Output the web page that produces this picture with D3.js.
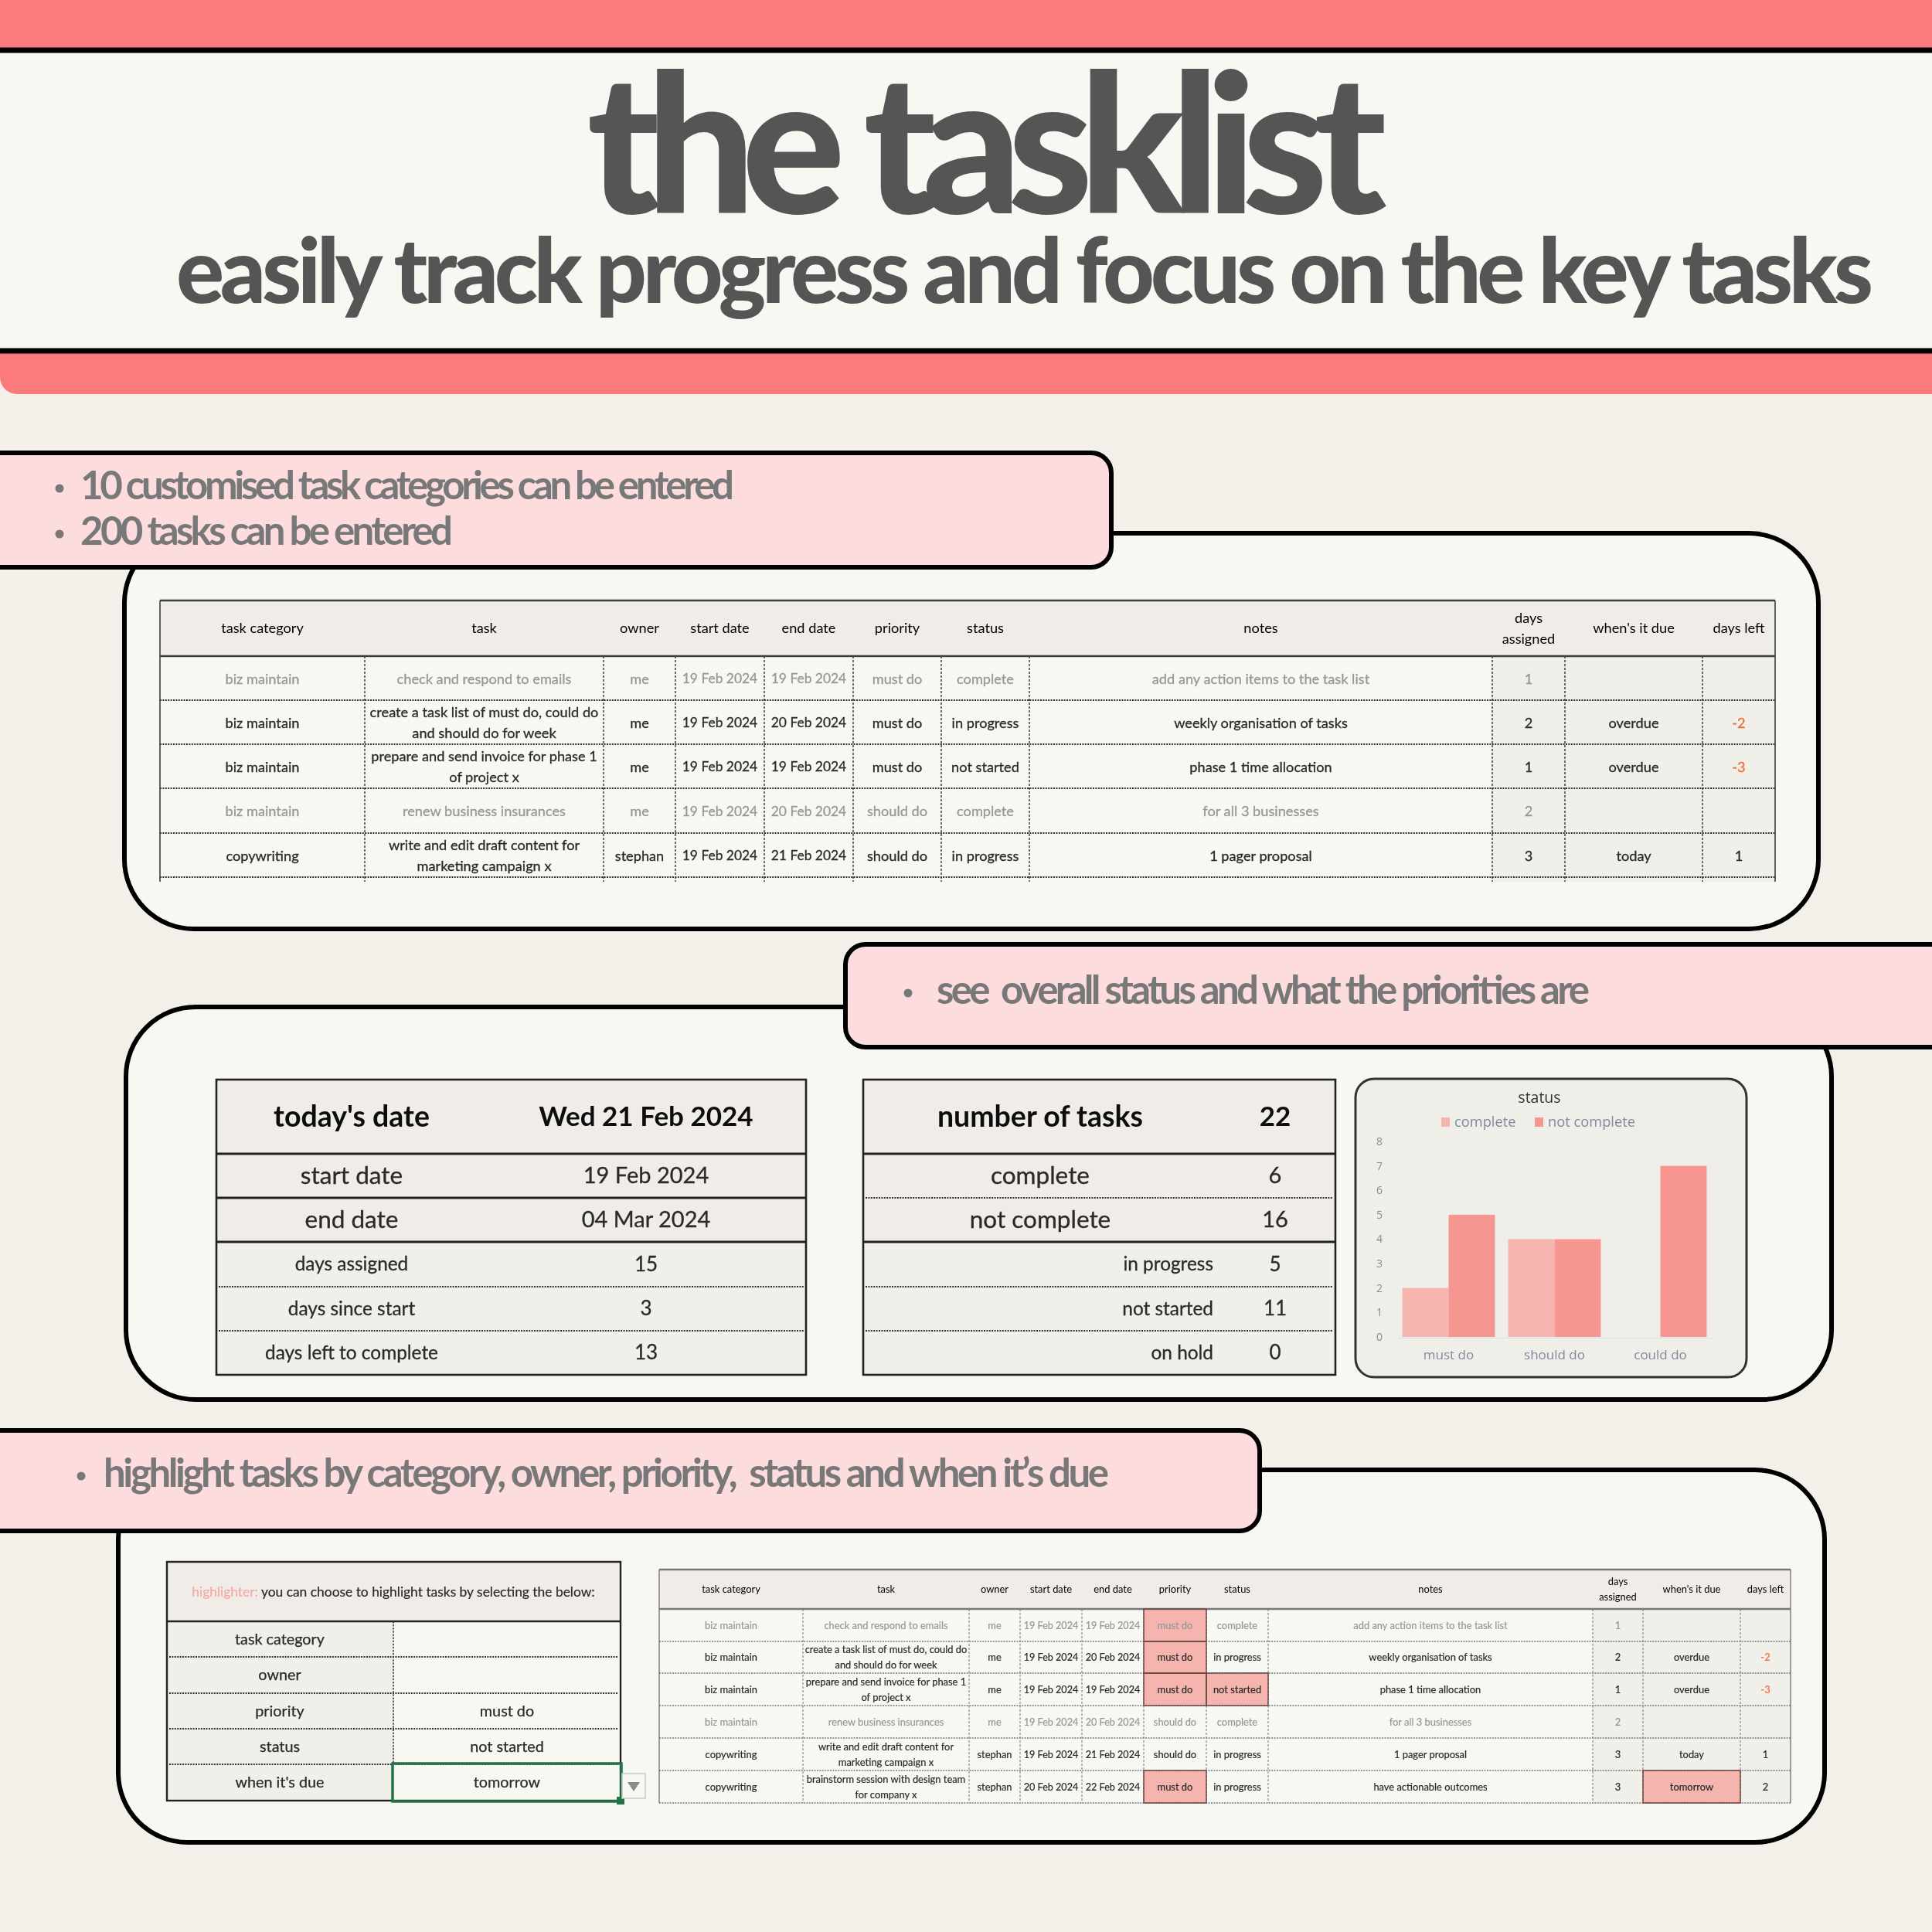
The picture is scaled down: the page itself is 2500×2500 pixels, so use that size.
<!DOCTYPE html>
<html>
<head>
<meta charset="utf-8">
<script src="https://cdn.jsdelivr.net/npm/d3@7/dist/d3.min.js"></script>
<style>
html,body{margin:0;padding:0;background:#F3F0EA}
svg{display:block}
text{font-family:Lato,"Open Sans",sans-serif}
</style>
</head>
<body>
<div id="chart"></div>
<script>
// ---------- content ----------
const titleText = "the tasklist";
const subtitleText = "easily track progress and focus on the key tasks";
const callout1Lines = ["10 customised task categories can be entered", "200 tasks can be entered"];
const callout2Lines = ["see  overall status and what the priorities are"];
const callout3Lines = ["highlight tasks by category, owner, priority,  status and when it\u2019s due"];

const headers = ["task category","task","owner","start date","end date","priority","status","notes","days\nassigned","when's it due","days left"];
const taskCategories = ["biz maintain","biz maintain","biz maintain","biz maintain","copywriting","copywriting"];
const tasks = ["check and respond to emails","create a task list of must do, could do\nand should do for week","prepare and send invoice for phase 1\nof project x","renew business insurances","write and edit draft content for\nmarketing campaign x","brainstorm session with design team\nfor company x"];
const owners = ["me","me","me","me","stephan","stephan"];
const startDates = ["19 Feb 2024","19 Feb 2024","19 Feb 2024","19 Feb 2024","19 Feb 2024","20 Feb 2024"];
const endDates = ["19 Feb 2024","20 Feb 2024","19 Feb 2024","20 Feb 2024","21 Feb 2024","22 Feb 2024"];
const priorities = ["must do","must do","must do","should do","should do","must do"];
const statuses = ["complete","in progress","not started","complete","in progress","in progress"];
const notes = ["add any action items to the task list","weekly organisation of tasks","phase 1 time allocation","for all 3 businesses","1 pager proposal","have actionable outcomes"];
const daysAssigned = ["1","2","1","2","3","3"];
const dueLabels = ["","overdue","overdue","","today","tomorrow"];
const daysLeft = ["","-2","-3","","1","2"];

const dateLabels = ["start date","end date","days assigned","days since start","days left to complete"];
const dateValues = ["19 Feb 2024","04 Mar 2024","15","3","13"];
const countLabels = ["complete","not complete","in progress","not started","on hold"];
const countValues = ["6","16","5","11","0"];

const chartTitle = "status";
const chartCategories = ["must do","should do","could do"];
const seriesNames = ["complete","not complete"];
const completeValues = [2,4,0];
const notCompleteValues = [5,4,7];
const yTickValues = [0,1,2,3,4,5,6,7,8];

const highlighterLabels = ["task category","owner","priority","status","when it's due"];
const highlighterValues = ["","","must do","not started","tomorrow"];

// ---------- layout & style ----------
const W = 2500, H = 2500;
const C = {bg:"#F3F0EA", paper:"#F8F8F3", coral:"#FB7B7C", pink:"#FCDCDD", ink:"#000", head:"#F0EDE8", shade:"#F0EFE9",
           title:"#555555", callout:"#787878", dark:"#2A2A2A", muted:"#979797", red:"#F0703C", hi:"#F5B5AE",
           c1:"#F5B5AE", c2:"#F59690", axis:"#808A9E", green:"#217346"};

const svg = d3.select("#chart").append("svg").attr("width",W).attr("height",H).attr("viewBox",`0 0 ${W} ${H}`);
const defs = svg.append("defs");
defs.append("filter").attr("id","soft").attr("x","-2%").attr("y","-2%").attr("width","104%").attr("height","104%")
  .append("feGaussianBlur").attr("stdDeviation",0.55);
defs.append("filter").attr("id","softer").attr("x","-2%").attr("y","-2%").attr("width","104%").attr("height","104%")
  .append("feGaussianBlur").attr("stdDeviation",0.45);

const rect = (g,x,y,w,h,fill,extra={})=>{
  const r=g.append("rect").attr("x",x).attr("y",y).attr("width",w).attr("height",h).attr("fill",fill);
  Object.entries(extra).forEach(([k,v])=>r.attr(k,v)); return r;
};
const line = (g,x1,y1,x2,y2,stroke,w,dash)=>{
  const l=g.append("line").attr("x1",x1).attr("y1",y1).attr("x2",x2).attr("y2",y2).attr("stroke",stroke).attr("stroke-width",w);
  if(dash) l.attr("stroke-dasharray",dash); return l;
};
const label = (g,str,x,y,size,fill,opt={})=>{
  const t=g.append("text").attr("x",x).attr("y",y).attr("font-size",size).attr("fill",fill)
    .attr("text-anchor",opt.anchor||"middle").attr("font-weight",opt.weight||400).text(str);
  if(opt.len) t.attr("textLength",opt.len).attr("lengthAdjust",opt.adjust||"spacing");
  if(opt.family) t.style("font-family",opt.family);
  if(opt.sw) t.attr("stroke",fill).attr("stroke-width",opt.sw);
  return t;
};
const cellText = (g,str,cx,cy,size,lh,fill,opt={})=>{
  const parts=str.split("\n");
  parts.forEach((p,i)=>{
    label(g,p,cx,cy+(i-(parts.length-1)/2)*lh+size*0.34,size,fill,opt);
  });
};

// ---------- page frame ----------
rect(svg,0,0,W,H,C.bg);
rect(svg,0,-30,W+60,540,C.coral,{rx:22});
rect(svg,-10,65,W+20,389,C.paper,{stroke:C.ink,"stroke-width":7});

label(svg,titleText,1277,276,250,C.title,{weight:900,len:1035});
label(svg,subtitleText,1326,392,116,C.title,{weight:900,len:2196});

// ---------- white panels ----------
const panels = [[161,690,2192,512],[163,1303,2207,508],[153,1902,2208,482]];
svg.selectAll("rect.panel").data(panels).join("rect").attr("class","panel")
  .attr("x",d=>d[0]).attr("y",d=>d[1]).attr("width",d=>d[2]).attr("height",d=>d[3])
  .attr("rx",90).attr("fill",C.paper).attr("stroke",C.ink).attr("stroke-width",6);

// ---------- task sheets ----------
function sheet(cfg){
  const g=svg.append("g").attr("filter",`url(#${cfg.filter})`);
  const E=cfg.edges, Y=cfg.rows, n=Y.length-1;
  const hTop=cfg.top, hBot=Y[0];
  rect(g,E[0],hTop,E[E.length-1]-E[0],hBot-hTop,C.head);
  rect(g,E[8],hBot,E[11]-E[8],cfg.bottom-hBot,C.shade);
  const col=(i)=>(E[i]+E[i+1])/2;
  const cols=[taskCategories,tasks,owners,startDates,endDates,priorities,statuses,notes,daysAssigned,dueLabels,daysLeft];
  headers.forEach((h,i)=>cellText(g,h,col(i),(hTop+hBot)/2,cfg.size,cfg.lh,cfg.dark,{sw:cfg.sw}));
  // highlighted cells, driven by the data
  if(cfg.highlight){
    d3.range(n).forEach(r=>{
      const mark=(i)=>rect(g,E[i],Y[r],E[i+1]-E[i],Y[r+1]-Y[r],C.hi);
      if(priorities[r]==="must do") mark(5);
      if(statuses[r]==="not started") mark(6);
      if(dueLabels[r]==="tomorrow") mark(9);
    });
  }
  // grid
  E.slice(1,-1).forEach(x=>line(g,x,hBot,x,cfg.bottom,cfg.grid,cfg.gw,"3 2"));
  Y.slice(1).forEach(y=>line(g,E[0],y,E[E.length-1],y,cfg.grid,cfg.gh,"2 1.4"));
  line(g,E[0],hTop,E[E.length-1],hTop,cfg.frame,cfg.fw+1);
  line(g,E[0],hBot,E[E.length-1],hBot,cfg.frame,cfg.fw+1);
  line(g,E[0],hTop,E[0],cfg.bottom,cfg.frame,cfg.fw);
  line(g,E[E.length-1],hTop,E[E.length-1],cfg.bottom,cfg.frame,cfg.fw);
  // highlighted cell outlines
  if(cfg.highlight){
    d3.range(n).forEach(r=>{
      const out=(i)=>rect(g,E[i],Y[r],E[i+1]-E[i],Y[r+1]-Y[r],"none",{stroke:"#6b4a48","stroke-width":1.5});
      if(priorities[r]==="must do") out(5);
      if(statuses[r]==="not started") out(6);
      if(dueLabels[r]==="tomorrow") out(9);
    });
  }
  d3.range(n).forEach(r=>{
    const done=statuses[r]==="complete";
    const cy=(Y[r]+Y[r+1])/2+cfg.shift;
    cols.forEach((c,i)=>{
      const v=c[r]; if(!v) return;
      let fill=done?C.muted:C.dark;
      if(i===10 && +v<0) fill=C.red;
      const size=(i===3||i===4)?cfg.dateSize:cfg.size;
      cellText(g,v,col(i),cy,size,cfg.lh,fill,{sw:cfg.sw});
    });
  });
}
sheet({filter:"soft",top:777,bottom:1141,size:18.2,dateSize:17.4,lh:27,shift:1,sw:0.3,grid:"#333",gw:1.4,gh:2,frame:"#3c3c3c",fw:1.6,
  edges:[207,472,781,874,989,1104,1218,1332,1931,2025,2203,2297],
  rows:[849,906,963,1020,1078,1135]});
sheet({filter:"softer",top:2031,bottom:2333,size:12.9,dateSize:12.6,lh:20,shift:0.5,sw:0.2,grid:"#777",gw:1,gh:1.5,frame:"#777",fw:1.4,highlight:true,
  edges:[853,1039,1254,1320,1400,1480,1561,1641,2061,2126,2252,2317],
  rows:[2082,2124,2165,2207,2249,2291,2333]});

// ---------- summary tables ----------
function summary(cfg){
  const g=svg.append("g").attr("filter","url(#soft)");
  const [x0,x1]=cfg.x, Y=[1397,1493,1550,1607,1665,1722,1779];
  rect(g,x0,Y[0],x1-x0,Y[3]-Y[0],C.head);
  rect(g,x0,Y[3],x1-x0,Y[6]-Y[3],C.shade);
  cfg.solid.forEach(y=>line(g,x0,y,x1,y,"#222",3));
  cfg.dotted.forEach(y=>line(g,x0+3,y,x1-3,y,"#333",2,"2 1.4"));
  rect(g,x0,Y[0],x1-x0,Y[6]-Y[0],"none",{stroke:"#222","stroke-width":2.6});
  cellText(g,cfg.head[0],cfg.lx,(Y[0]+Y[1])/2,37.5,0,"#111",{weight:700});
  cellText(g,cfg.head[1],cfg.vx,(Y[0]+Y[1])/2,35,0,"#111",{weight:700});
  cfg.labels.forEach((l,i)=>{
    const cy=(Y[i+1]+Y[i+2])/2, big=i<2, size=big?31.5:24.4, vsize=big?29:26;
    if(big||!cfg.rightX) cellText(g,l,cfg.lx,cy,size,0,C.dark,{sw:0.3});
    else label(g,l,cfg.rightX,cy+size*0.34,size,C.dark,{anchor:"end",sw:0.3});
    cellText(g,cfg.values[i],cfg.vx,cy,vsize,0,C.dark,{sw:0.3});
  });
}
summary({x:[280,1043],lx:455,vx:836,head:["today's date","Wed 21 Feb 2024"],labels:dateLabels,values:dateValues,
  solid:[1493,1550,1607],dotted:[1665,1722]});
summary({x:[1117,1728],lx:1346,vx:1650,rightX:1570,head:["number of tasks","22"],labels:countLabels,values:countValues,
  solid:[1493,1607],dotted:[1550,1665,1722]});

// ---------- status bar chart ----------
const cg=svg.append("g").attr("filter","url(#soft)");
rect(cg,1754,1396,506,386,"#F0EEE8",{rx:24,stroke:"#333","stroke-width":3});
const x0=d3.scaleBand().domain(chartCategories).range([1806,2217]).paddingInner(0.125).paddingOuter(0.0625);
const x1=d3.scaleBand().domain(seriesNames).range([0,x0.bandwidth()]);
const y=d3.scaleLinear().domain([0,8]).range([1730,1477]);
const colour=d3.scaleOrdinal().domain(seriesNames).range([C.c1,C.c2]);
const seriesData=[completeValues,notCompleteValues];
chartCategories.forEach((cat,ci)=>{
  seriesNames.forEach((s,si)=>{
    const v=seriesData[si][ci];
    cg.append("rect").attr("x",x0(cat)+x1(s)).attr("y",y(v)).attr("width",x1.bandwidth()).attr("height",y(0)-y(v)).attr("fill",colour(s));
  });
});
const ax=cg.append("g").attr("transform",`translate(0,${y(0)+1})`).call(d3.axisBottom(x0).tickSize(0).tickPadding(16));
ax.select(".domain").attr("stroke","#DCE4EE").attr("stroke-width",1.5);
ax.selectAll("text").attr("font-size",17).attr("fill",C.axis).style("font-family","'Open Sans'");
const ay=cg.append("g").attr("transform","translate(1797,0)").call(d3.axisLeft(y).tickValues(yTickValues).tickSize(0).tickPadding(8));
ay.select(".domain").remove();
ay.selectAll("text").attr("font-size",14).attr("fill",C.axis).style("font-family","'Open Sans'");
label(cg,chartTitle,1992,1427,19.5,"#333",{family:"'Open Sans'"});
const legendX=d3.scaleOrdinal().domain(seriesNames).range([1865,1986]);
seriesNames.forEach(s=>{
  rect(cg,legendX(s),1446,11,12,colour(s));
  label(cg,s,legendX(s)+17,1458,18.3,C.axis,{anchor:"start",family:"'Open Sans'"});
});

// ---------- highlighter table ----------
const hg=svg.append("g").attr("filter","url(#softer)");
{
  const L=216,R=803,M=509,Y=[2098,2144,2191,2237,2283,2330],T=2021;
  rect(hg,L,T,R-L,Y[0]-T,C.head);
  rect(hg,L,Y[0],M-L,Y[5]-Y[0],C.shade);
  const t=label(hg,"",509,(T+Y[0])/2+6,17.4,C.dark,{sw:0.2});
  t.append("tspan").attr("fill","#F5A9A5").attr("stroke","#F5A9A5").text("highlighter:");
  t.append("tspan").attr("fill",C.dark).attr("stroke",C.dark).text(" you can choose to highlight tasks by selecting the below:");
  highlighterLabels.forEach((l,i)=>{
    const cy=(Y[i]+Y[i+1])/2;
    cellText(hg,l,362,cy,19.8,0,C.dark,{sw:0.25});
    if(highlighterValues[i]) cellText(hg,highlighterValues[i],656,cy,19.8,0,C.dark,{sw:0.25});
  });
  Y.slice(1,-1).forEach(yy=>line(hg,L+3,yy,R-3,yy,"#333",1.8,"2 1.4"));
  line(hg,M,Y[0],M,Y[4],"#333",1.5,"2.5 1.6");
  rect(hg,L,T,R-L,Y[5]-T,"none",{stroke:"#222","stroke-width":2.4});
  line(hg,L,Y[0],R,Y[0],"#222",2.4);
  rect(hg,508,2282,296,49,"none",{stroke:C.green,"stroke-width":3.5});
  rect(hg,798,2325,10,10,C.green);
  rect(hg,805,2295,30,32,"#F7F7F4",{stroke:"#C9C9C9","stroke-width":1.5});
  hg.append("path").attr("d",d3.line()([[812,2306],[828,2306],[820,2318]])+"Z").attr("fill","#8A8A8A");
}

// ---------- callouts ----------
function callout(box,lines,bulletX,textX,bases,widths){
  const g=svg.append("g");
  rect(g,box[0],box[1],box[2],box[3],C.pink,{rx:26,stroke:C.ink,"stroke-width":6});
  lines.forEach((l,i)=>{
    g.append("circle").attr("cx",bulletX).attr("cy",bases[i]-14).attr("r",5.5).attr("fill",C.callout);
    label(g,l,textX,bases[i],51,C.callout,{anchor:"start",weight:700,len:widths[i]}).attr("xml:space","preserve").style("white-space","pre");
  });
}
callout([-40,586,1478,148],callout1Lines,77,104,[646,705],[846,482]);
callout([1094,1222,1500,133],callout2Lines,1175,1212,[1299],[845]);
callout([-40,1851,1670,130],callout3Lines,105,134,[1924],[1301]);
</script>
</body>
</html>
